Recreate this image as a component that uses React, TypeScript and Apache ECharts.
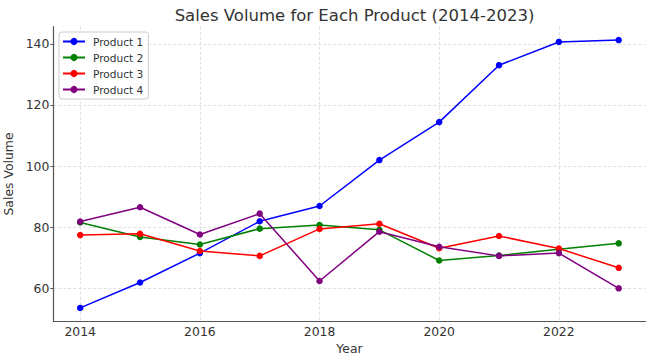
import React, { useEffect, useRef } from "react";
import * as echarts from "echarts";

const years = [2014, 2015, 2016, 2017, 2018, 2019, 2020, 2021, 2022, 2023];
const product1 = [53.7, 62.0, 71.6, 82.0, 87.0, 102.0, 114.4, 133.0, 140.6, 141.2];
const product2 = [81.6, 76.9, 74.4, 79.6, 80.8, 79.2, 69.2, 70.8, 72.9, 74.8];
const product3 = [77.5, 77.9, 72.3, 70.7, 79.5, 81.2, 73.2, 77.2, 73.1, 66.8];
const product4 = [81.9, 86.6, 77.7, 84.5, 62.5, 78.6, 73.7, 70.7, 71.6, 60.1];
const xTicks = [2014, 2016, 2018, 2020, 2022];
const yTicks = [60, 80, 100, 120, 140];
const seriesNames = ["Product 1", "Product 2", "Product 3", "Product 4"];
const seriesColors = ["#0000ff", "#008000", "#ff0000", "#800080"];

const FONT = "DejaVu Sans";

export default function App() {
  const ref = useRef<HTMLDivElement>(null);
  useEffect(() => {
    if (!ref.current) return;
    const chart = echarts.init(ref.current, undefined, { renderer: "svg" });
    const all = [product1, product2, product3, product4];
    const flat = all.flat();
    const dMin = Math.min(...flat);
    const dMax = Math.max(...flat);
    const pad = (dMax - dMin) * 0.05;
    const xPad = (years[years.length - 1] - years[0]) * 0.05;
    const gridLine = { show: true, lineStyle: { color: "#d8d8d8", type: [3, 2], width: 0.8 } };
    chart.setOption({
      animation: false,
      backgroundColor: "#ffffff",
      title: {
        text: "Sales Volume for Each Product (2014-2023)",
        left: 349.5,
        textAlign: "center",
        top: 2,
        textStyle: { fontFamily: FONT, fontSize: 16.5, fontWeight: "normal", color: "#333333" },
      },
      legend: {
        orient: "vertical",
        left: 59,
        top: 32,
        padding: [4, 5, 4, 3],
        itemGap: 5,
        itemWidth: 22,
        itemHeight: 9,
        borderColor: "#cccccc",
        borderWidth: 1,
        borderRadius: 3,
        backgroundColor: "#ffffff",
        textStyle: { fontFamily: FONT, fontSize: 10.6, color: "#333333", padding: [0, 0, 0, 3] },
        data: seriesNames,
      },
      grid: {
        left: 53.3,
        right: 7.4,
        top: 26.7,
        bottom: 40.7,
        containLabel: false,
        outerBoundsMode: "none",
      },
      xAxis: {
        type: "value",
        min: years[0] - xPad,
        max: years[years.length - 1] + xPad,
        name: "Year",
        nameLocation: "middle",
        nameGap: 17,
        nameTextStyle: { fontFamily: FONT, fontSize: 12.4, color: "#333333" },
        axisLine: { show: true, onZero: false, lineStyle: { color: "#555555", width: 1.2 } },
        axisTick: { show: false, customValues: xTicks },
        axisLabel: {
          customValues: xTicks,
          fontFamily: FONT,
          fontSize: 12.4,
          color: "#333333",
          margin: 4,
          formatter: (v: number) => String(v),
        },
        splitLine: gridLine,
      },
      yAxis: {
        type: "value",
        min: dMin - pad,
        max: dMax + pad,
        name: "Sales Volume",
        nameLocation: "middle",
        nameGap: 32,
        nameTextStyle: { fontFamily: FONT, fontSize: 12.4, color: "#333333" },
        axisLine: { show: true, onZero: false, lineStyle: { color: "#555555", width: 1.2 } },
        axisTick: { show: true, length: 3, customValues: yTicks, lineStyle: { color: "#555555" } },
        axisLabel: {
          customValues: yTicks,
          fontFamily: FONT,
          fontSize: 12.4,
          color: "#333333",
          margin: 4,
          formatter: (v: number) => String(v),
        },
        splitLine: gridLine,
      },
      series: all.map((vals, i) => ({
        name: seriesNames[i],
        type: "line",
        data: vals.map((v, j) => [years[j], v]),
        symbol: "circle",
        symbolSize: 6.5,
        color: seriesColors[i],
        lineStyle: { width: 1.5, color: seriesColors[i] },
        itemStyle: { color: seriesColors[i] },
      })),
    });
    return () => chart.dispose();
  }, []);
  return (
    <div
      ref={ref}
      style={{ position: "absolute", left: 0, top: 0, width: 653, height: 362 }}
    />
  );
}
